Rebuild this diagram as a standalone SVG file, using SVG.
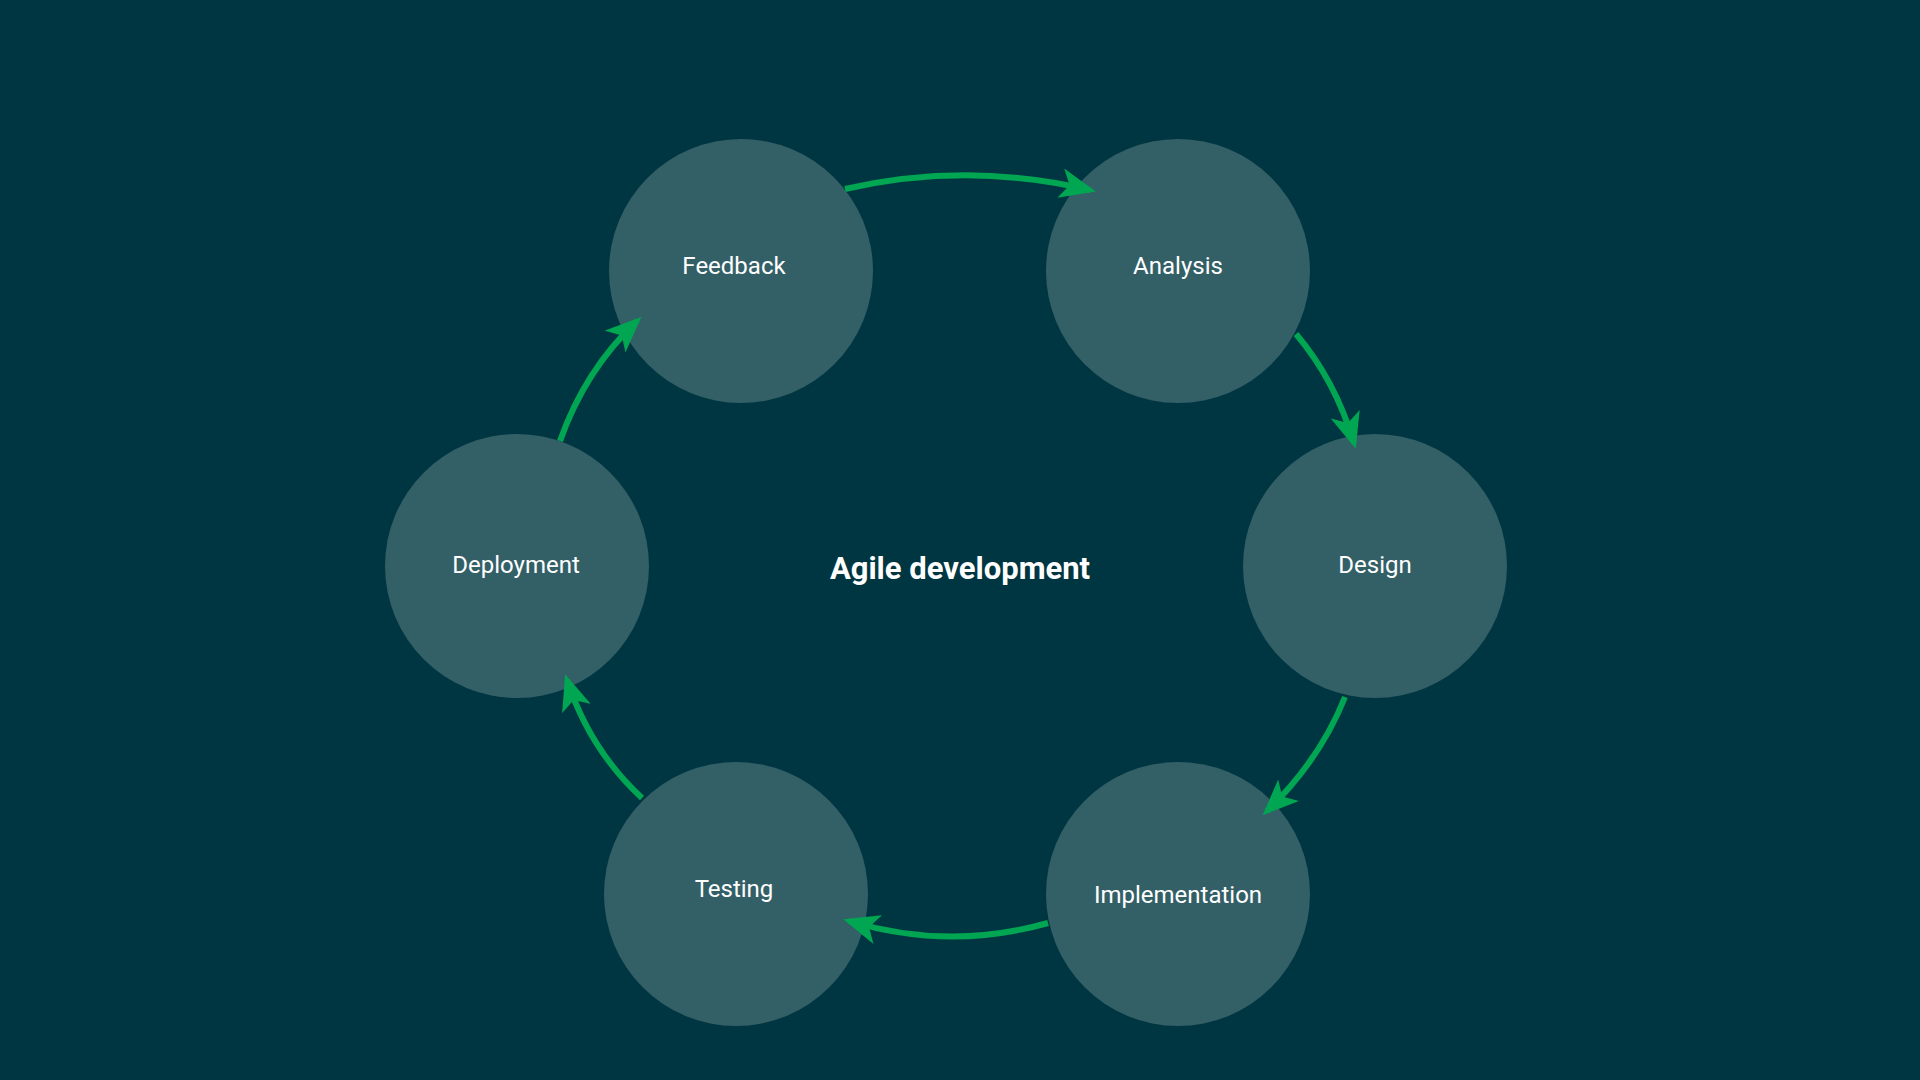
<svg xmlns="http://www.w3.org/2000/svg" width="1920" height="1080" viewBox="0 0 1920 1080">
<style>
.n{fill:#335f67}
.t{font-family:Roboto,"Liberation Sans",sans-serif;font-size:24px;fill:#fff;text-anchor:middle;dominant-baseline:central}
.c{fill:none;stroke:#00a651;stroke-width:6;marker-end:url(#a)}
</style>
<defs><marker id="a" viewBox="0 0 12 10" refX="10" refY="5" markerWidth="6" markerHeight="5" orient="auto" markerUnits="strokeWidth"><path d="M0,0 L12,5 L0,10 L3,5 Z" fill="#00a651"/></marker></defs>
<rect width="1920" height="1080" fill="#003641"/>
<g id="feedback"><circle class="n" cx="741" cy="271" r="132"/><text class="t" x="734" y="266">Feedback</text></g>
<g id="analysis"><circle class="n" cx="1178" cy="271" r="132"/><text class="t" x="1178" y="266">Analysis</text></g>
<g id="design"><circle class="n" cx="1375" cy="566" r="132"/><text class="t" x="1375" y="565">Design</text></g>
<g id="implementation"><circle class="n" cx="1178" cy="894" r="132"/><text class="t" x="1178" y="895">Implementation</text></g>
<g id="testing"><circle class="n" cx="736" cy="894" r="132"/><text class="t" x="734" y="889">Testing</text></g>
<g id="deployment"><circle class="n" cx="517" cy="566" r="132"/><text class="t" x="516" y="565">Deployment</text></g>
<text x="960" y="568" font-family="Roboto,'Liberation Sans',sans-serif" font-size="31" font-weight="bold" fill="#fff" text-anchor="middle" dominant-baseline="central">Agile development</text>
<g id="connectors">
<path class="c" d="M845,189 Q967,161 1090,190"/>
<path class="c" d="M1296,334 Q1335,380 1354,443"/>
<path class="c" d="M1345,697 Q1320,760 1267,811"/>
<path class="c" d="M1048,923 Q949,951 849,921"/>
<path class="c" d="M642,798 Q590,750 567,680"/>
<path class="c" d="M560,441 Q585,370 637,321"/>
</g>
</svg>
